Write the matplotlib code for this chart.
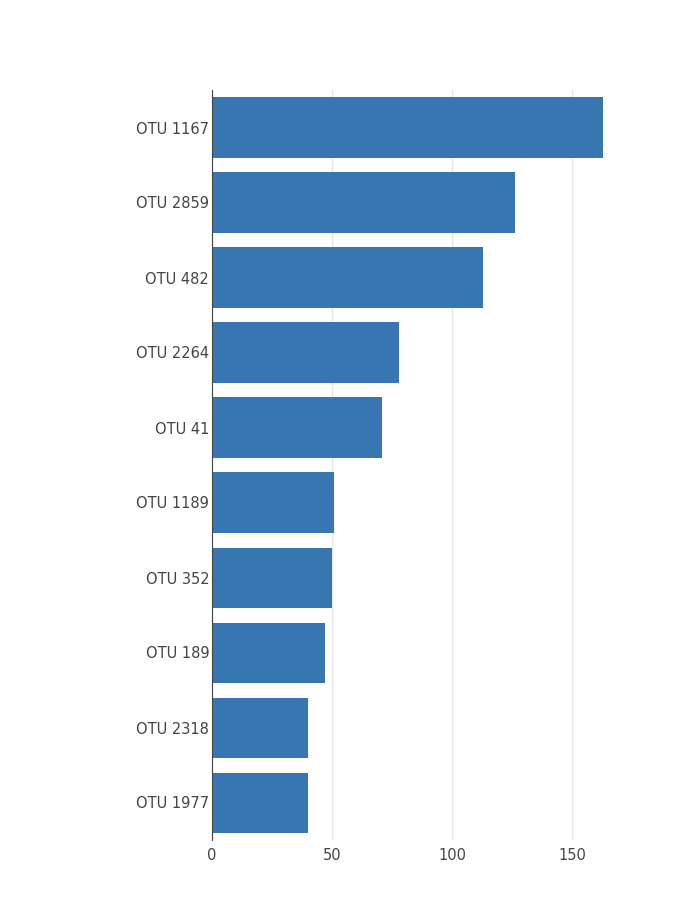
import matplotlib
matplotlib.use("Agg")
import matplotlib.pyplot as plt

labels = ["OTU 1167", "OTU 2859", "OTU 482", "OTU 2264", "OTU 41",
          "OTU 1189", "OTU 352", "OTU 189", "OTU 2318", "OTU 1977"]
values = [163, 126, 113, 78, 71, 51, 50, 47, 40, 40]

fig = plt.figure(figsize=(6.94, 9.18), dpi=100)
ax = fig.add_axes([212/694, 1-840/918, (624-212)/694, (840-90)/918])
ypos = list(range(len(labels)))[::-1]
ax.barh(ypos, values, height=0.8, color="#3776b0", zorder=2)
ax.set_yticks(ypos)
ax.set_yticklabels(labels)
ax.set_ylim(-0.5, len(labels) - 0.5)
ax.set_xlim(0, 171.6)
ax.set_xticks([0, 50, 100, 150])
ax.grid(axis="x", color="#e6e6e6", linewidth=1, zorder=0)
for s in ["top", "right", "bottom"]:
    ax.spines[s].set_visible(False)
ax.spines["left"].set_color("#444444")
ax.tick_params(axis="both", length=0, labelsize=10.5, labelcolor="#444444")
ax.tick_params(axis="y", pad=2)
ax.tick_params(axis="x", pad=6)
fig.savefig("out.png", dpi=100)
